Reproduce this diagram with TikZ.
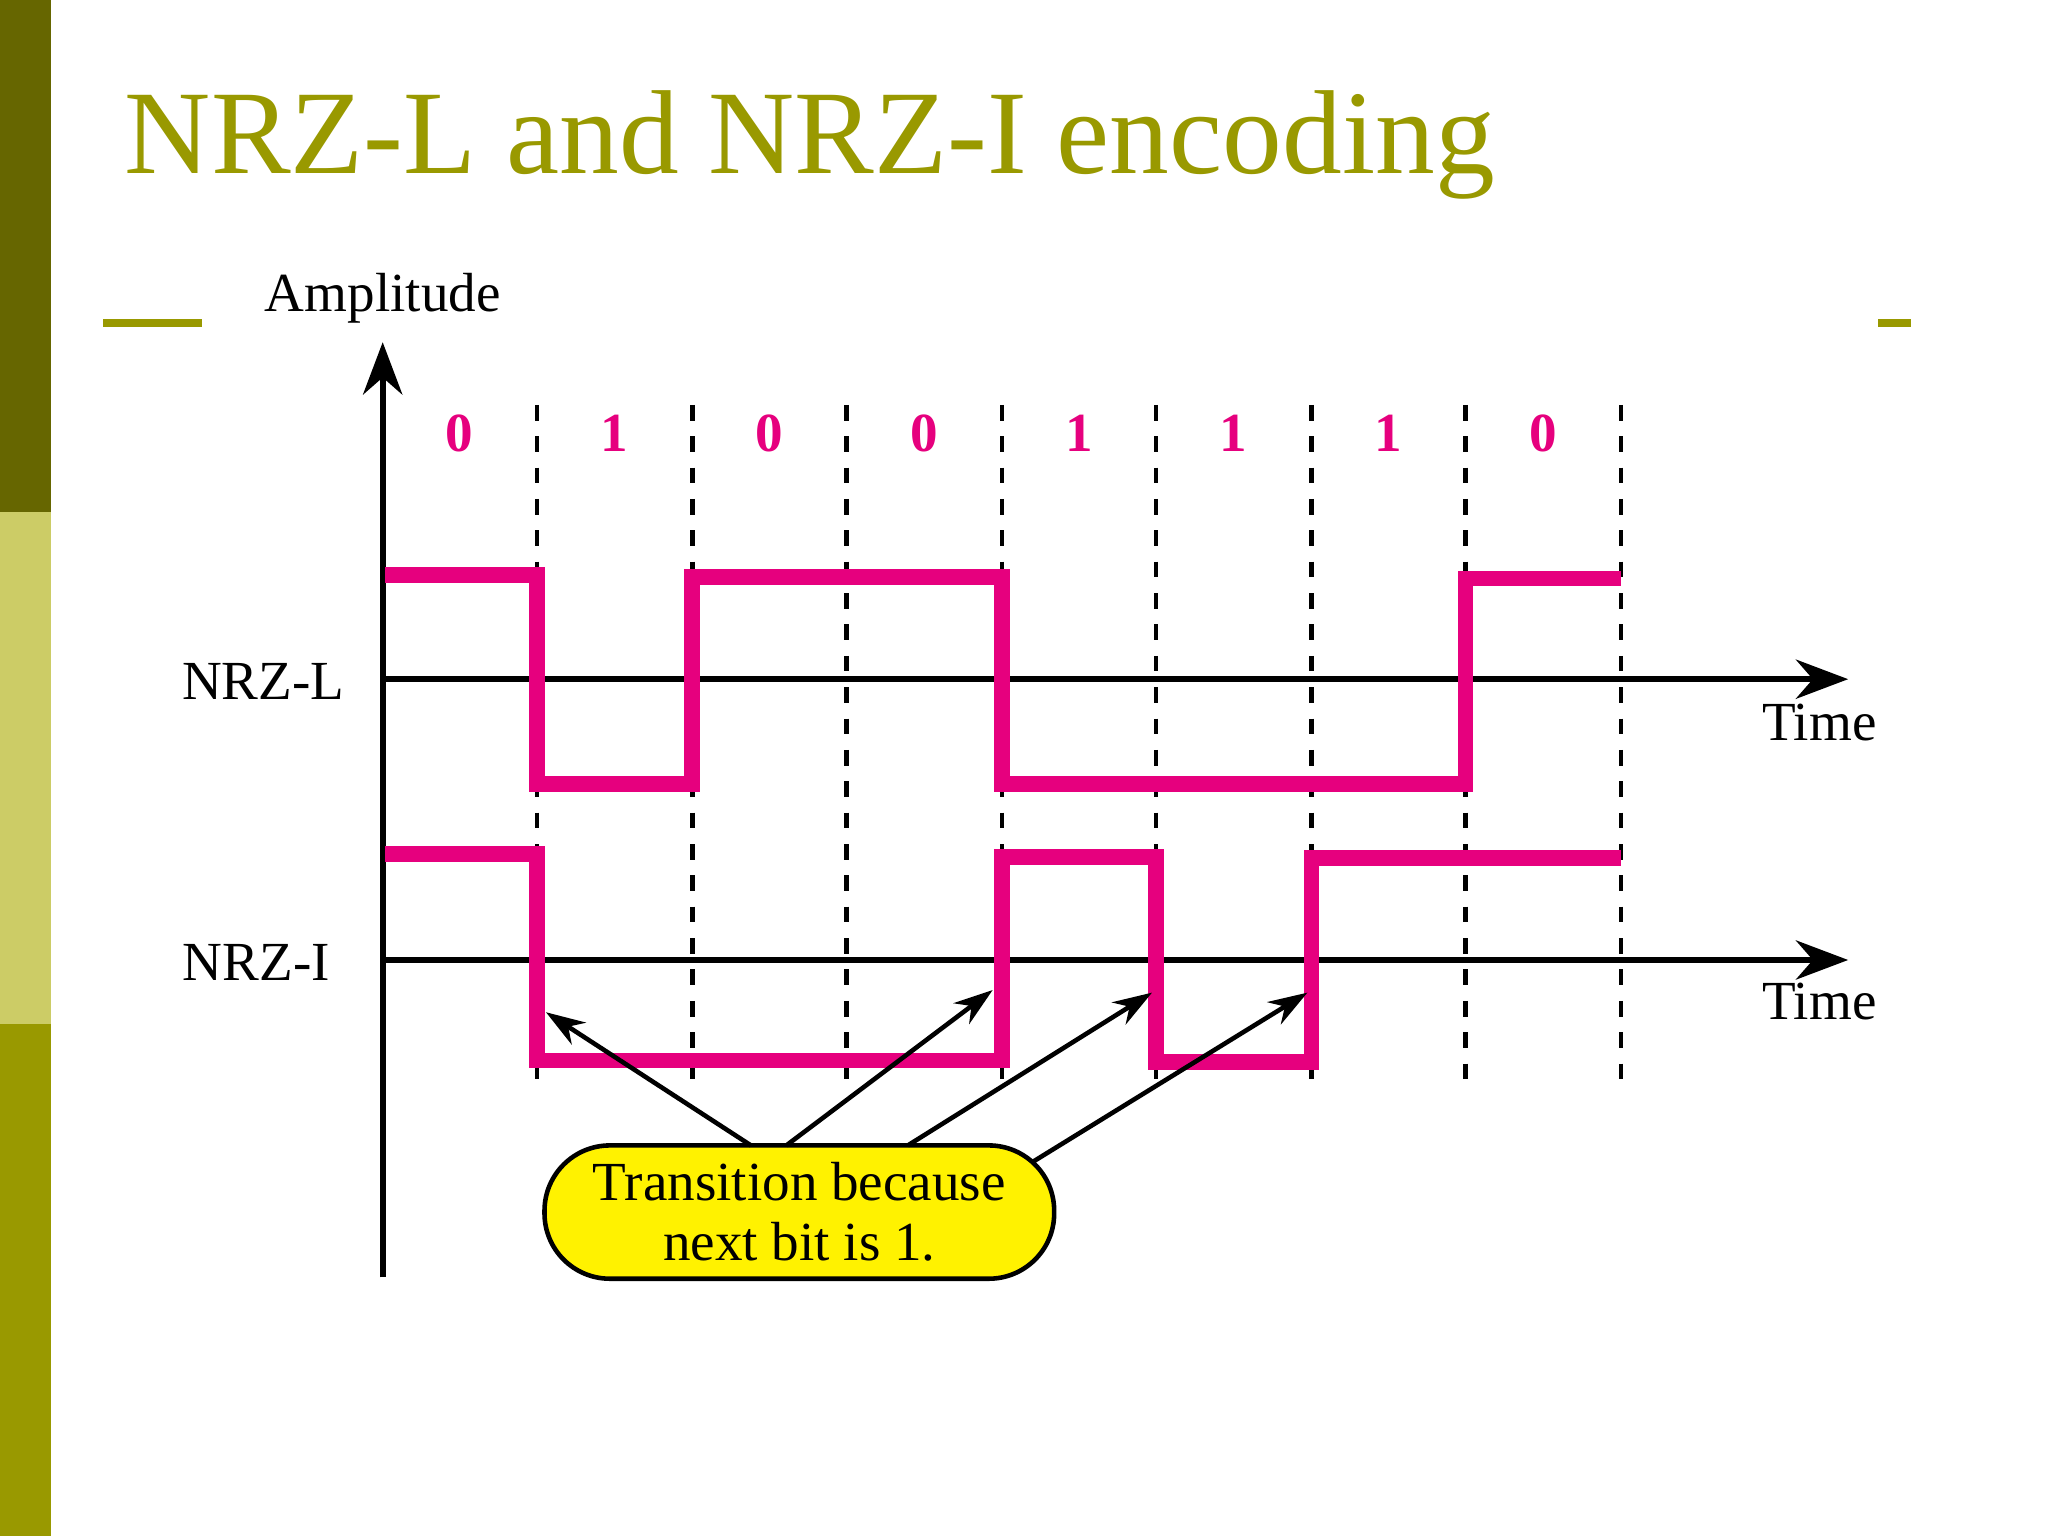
\documentclass[tikz,border=0pt]{standalone}
\usepackage{fontspec}
\setmainfont{Liberation Serif}
\usetikzlibrary{arrows.meta}
\definecolor{olive}{HTML}{999900}
\definecolor{dolive}{HTML}{666600}
\definecolor{lolive}{HTML}{CCCC66}
\definecolor{mag}{HTML}{E6007E}
\begin{document}
\begin{tikzpicture}[x=0.01cm,y=-0.01cm,
  sig/.style={mag,line width=1.2mm,line join=miter},
  dsh/.style={dash pattern=on 1.2mm off 1.2mm,line width=0.35mm},
  ax/.style={line width=0.45mm,-{Stealth[length=4mm,width=3mm]}},
  lbl/.style={font=\fontsize{12}{14}\selectfont},
  bit/.style={mag,font=\bfseries\fontsize{12}{12}\selectfont},
  pt/.style={line width=0.35mm,-{Stealth[length=3mm,width=2mm]}}]
\useasboundingbox (0,0) rectangle (1568,1176);
\fill[white] (0,0) rectangle (1568,1176);
\fill[dolive] (0,0) rectangle (39,392);
\fill[lolive] (0,392) rectangle (39,784);
\fill[olive] (0,784) rectangle (39,1176);
\node[olive,anchor=base west,inner sep=0,font=\fontsize{26}{26}\selectfont] (title) at (95,133) {NRZ-L and NRZ-I encoding};
\draw[olive,line width=0.6mm] (79,247) -- (155,247) (1438,247) -- (1463,247);
\node[lbl] (amp) at (293,228) {Amplitude};
\coordinate (o) at (293,978); \coordinate (top) at (293,262);
\draw[ax] (o) -- (top);
\coordinate (l0) at (293,520); \coordinate (l1) at (1415,520);
\coordinate (i0) at (293,735); \coordinate (i1) at (1415,735);
\draw[ax] (l0) -- (l1);
\draw[ax] (i0) -- (i1);
\foreach \x in {411,530,648,767,885,1004,1122,1241} \draw[dsh] (\x,310) -- (\x,828);
\foreach \b [count=\i from 0] in {0,1,0,0,1,1,1,0}
  \node[bit] (b\i) at (352+118.5*\i,332) {\b};
\node[lbl,anchor=east] (nl) at (276,522) {NRZ-L};
\node[lbl,anchor=east] (ni) at (265,737) {NRZ-I};
\node[lbl] (t1) at (1393,553) {Time};
\node[lbl] (t2) at (1393,767) {Time};
\draw[sig] (295,440) -- (411,440) -- (411,600) -- (530,600) -- (530,442) -- (767,442) -- (767,600) -- (1122,600) -- (1122,443) -- (1241,443);
\draw[sig] (295,654) -- (411,654) -- (411,812) -- (767,812) -- (767,656) -- (885,656) -- (885,813) -- (1004,813) -- (1004,657) -- (1241,657);
\node[draw,line width=0.35mm,fill=yellow,rounded corners=0.5cm,minimum width=3.9cm,minimum height=1.02cm,align=center,lbl,inner sep=0] (tb) at (612,928) {Transition because\\[-1pt]next bit is 1.};
\coordinate (a1) at (418,775); \coordinate (a2) at (760,758);
\coordinate (a3) at (882,760); \coordinate (a4) at (1001,760);
\draw[pt] (575,877) -- (a1);
\draw[pt] (602,877) -- (a2);
\draw[pt] (695,877) -- (a3);
\draw[pt] (790,890) -- (a4);
\end{tikzpicture}
\end{document}
